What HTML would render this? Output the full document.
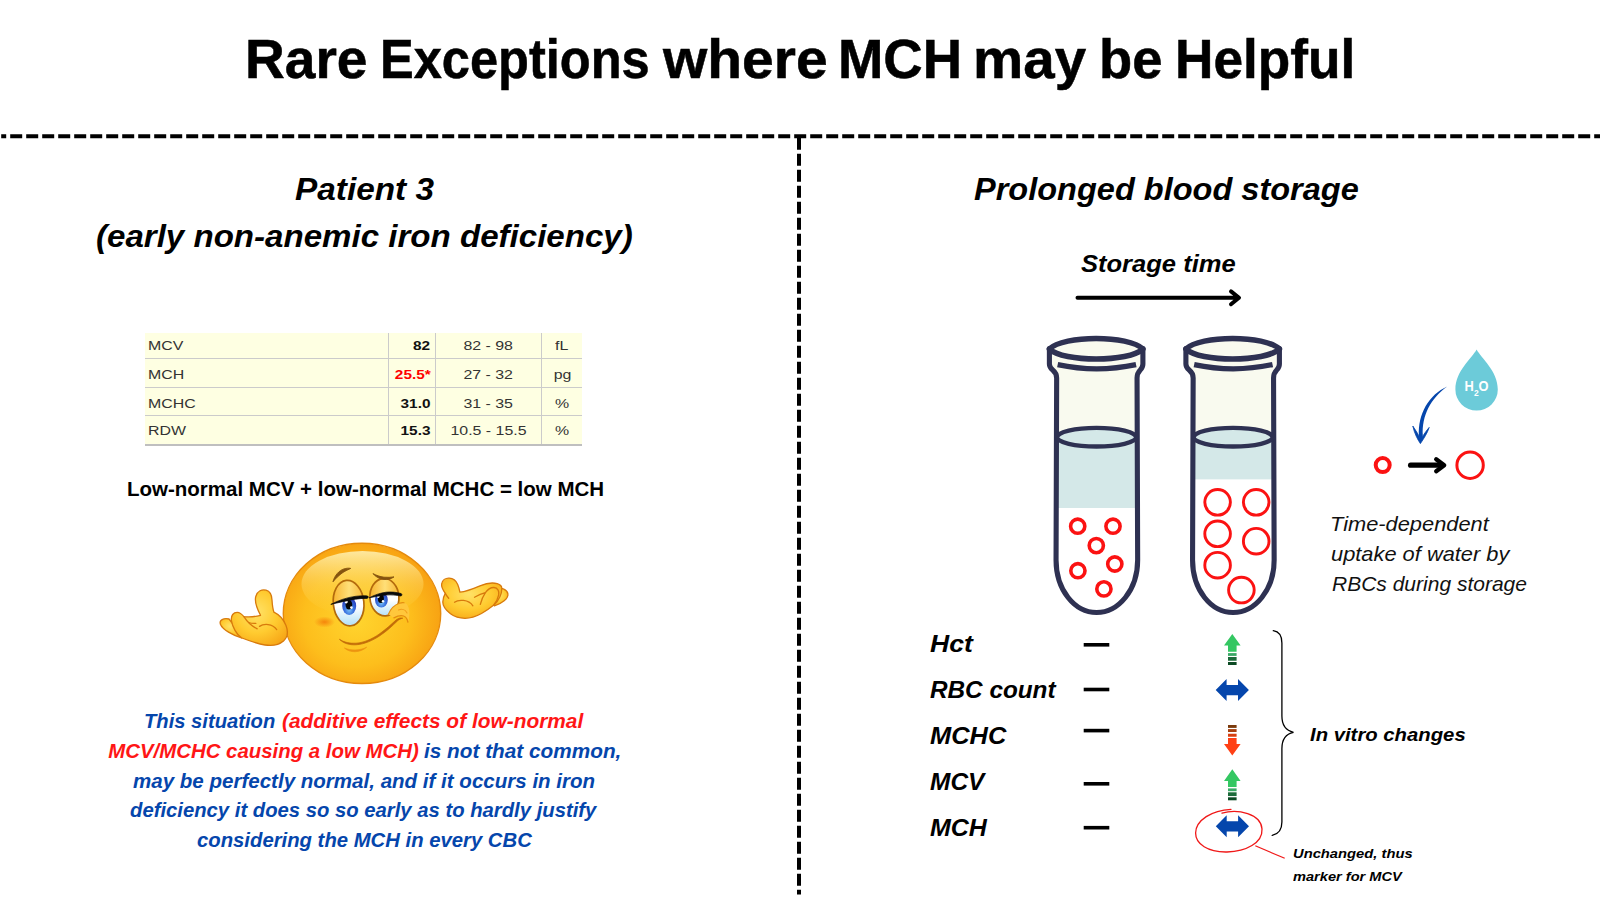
<!DOCTYPE html>
<html lang="en"><head><meta charset="utf-8"><title>Rare Exceptions where MCH may be Helpful</title>
<style>
html,body{margin:0;padding:0;background:#fff;}
body{width:1600px;height:900px;position:relative;overflow:hidden;font-family:"Liberation Sans",sans-serif;}
.t{position:absolute;margin:0;white-space:nowrap;line-height:1;transform-origin:0 50%;}
.r{color:#ff1616;}
.wl{position:absolute;left:0;margin:0;white-space:nowrap;line-height:1;width:1600px;height:1em;}
.wl span{position:absolute;top:0;transform-origin:0 50%;}
#gfx{position:absolute;left:0;top:0;}
table.lab{position:absolute;left:145.3px;top:333.2px;width:437.1px;border-collapse:collapse;background:#feffe2;font-size:13.6px;line-height:16px;color:#333;table-layout:fixed;border-bottom:2px solid #bfbfbf;}
table.lab td{border-top:1.5px solid #cbcbcb;border-left:1.5px solid #cbcbcb;padding:0 4px;vertical-align:top;white-space:nowrap;overflow:hidden;box-sizing:border-box;}
table.lab tr:first-child td{border-top:none;}
table.lab td:first-child{border-left:none;padding-left:3.2px;}
table.lab td span{display:inline-block;transform:scaleX(1.17);transform-origin:50% 50%;}
table.lab td:first-child span{transform-origin:0 50%;}
table.lab td.v{text-align:right;font-weight:bold;color:#111;padding-right:4.6px;}
table.lab td.v span{transform-origin:100% 50%;transform:scaleX(1.13);}
table.lab td.v.hi{color:#ff0000;}
table.lab td.c{text-align:center;}
table.lab tr.r1 td{height:25px;padding-top:4.4px;}
table.lab tr.r2 td{height:29.4px;padding-top:8.1px;}
table.lab tr.r3 td{height:27.9px;padding-top:7.7px;}
table.lab tr.r4 td{height:29.2px;padding-top:7.5px;}
</style></head>
<body>
<svg id="gfx" width="1600" height="900" viewBox="0 0 1600 900">
<!-- dashed dividers -->
<line x1="1.2" y1="136.25" x2="1600" y2="136.25" stroke="#000" stroke-width="4" stroke-dasharray="12 4" stroke-dashoffset="7"/>
<line x1="799" y1="137.8" x2="799" y2="894.4" stroke="#000" stroke-width="4" stroke-dasharray="12 4"/>
<!-- storage time arrow -->
<path d="M1077.5 297.8 L1238.5 297.8 M1231 291.4 L1239 297.8 L1231 304.2" fill="none" stroke="#000" stroke-width="4" stroke-linecap="round" stroke-linejoin="round"/>
<!-- test tubes -->
<g>
<clipPath id="tc0"><path d="M1049.4 348.5 L1049.4 364 C1049.4 371 1056.65 369 1056.65 378 L1056.0500000000002 560 C1056.0500000000002 590 1074.6 612.5 1096.6 612.5 C1118.6 612.5 1137.6499999999999 590 1137.6499999999999 560 L1137.05 378 C1137.05 369 1142.9 371 1142.9 364 L1142.9 348.5 Z"/></clipPath>
<g clip-path="url(#tc0)">
<rect x="1046.4" y="330" width="100" height="110" fill="#f9faef"/>
<rect x="1046.4" y="437" width="100" height="71" fill="#d4e8e8"/>
<rect x="1046.4" y="508" width="100" height="112" fill="#fff"/>
<ellipse cx="1096.6" cy="437.2" rx="39" ry="9.2" fill="#d4e8e8"/>
</g>
<circle cx="1077.7" cy="526.2" r="7.1" fill="none" stroke="#fb1212" stroke-width="3.6"/>
<circle cx="1113" cy="526.2" r="7.1" fill="none" stroke="#fb1212" stroke-width="3.6"/>
<circle cx="1096.3" cy="545.6" r="7.1" fill="none" stroke="#fb1212" stroke-width="3.6"/>
<circle cx="1114.8" cy="564" r="7.1" fill="none" stroke="#fb1212" stroke-width="3.6"/>
<circle cx="1077.9" cy="570.7" r="7.1" fill="none" stroke="#fb1212" stroke-width="3.6"/>
<circle cx="1103.9" cy="588.9" r="7.1" fill="none" stroke="#fb1212" stroke-width="3.6"/>
<path d="M1049.4 348.5 L1049.4 364 C1049.4 371 1056.65 369 1056.65 378 L1056.0500000000002 560 C1056.0500000000002 590 1074.6 612.5 1096.6 612.5 C1118.6 612.5 1137.6499999999999 590 1137.6499999999999 560 L1137.05 378 C1137.05 369 1142.9 371 1142.9 364 L1142.9 348.5 Z" fill="none" stroke="#2e3152" stroke-width="5.1" stroke-linejoin="round"/>
<ellipse cx="1096.6" cy="437.2" rx="39.5" ry="9.3" fill="none" stroke="#2e3152" stroke-width="4.4"/>
<path d="M1049.4 349 C1063.4 335 1128.9 335 1142.9 349 C1128.9 362.4 1063.4 362.4 1049.4 349 Z" fill="#f9faef" stroke="#2e3152" stroke-width="5.6" stroke-linejoin="round"/>
<path d="M1057.65 364.6 Q1096.6 373 1136.05 364.6" fill="none" stroke="#2e3152" stroke-width="5.2"/>
</g>
<g>
<clipPath id="tc136"><path d="M1185.9 348.5 L1185.9 364 C1185.9 371 1193.15 369 1193.15 378 L1192.5500000000002 560 C1192.5500000000002 590 1211.1 612.5 1233.1 612.5 C1255.1 612.5 1274.1499999999999 590 1274.1499999999999 560 L1273.55 378 C1273.55 369 1279.4 371 1279.4 364 L1279.4 348.5 Z"/></clipPath>
<g clip-path="url(#tc136)">
<rect x="1182.9" y="330" width="100" height="110" fill="#f9faef"/>
<rect x="1182.9" y="437" width="100" height="42.60000000000002" fill="#d4e8e8"/>
<rect x="1182.9" y="479.6" width="100" height="140.39999999999998" fill="#fff"/>
<ellipse cx="1233.1" cy="437.2" rx="39" ry="9.2" fill="#d4e8e8"/>
</g>
<circle cx="1217.6" cy="502.3" r="12.8" fill="none" stroke="#fb1212" stroke-width="2.9"/>
<circle cx="1256.2" cy="502.3" r="12.8" fill="none" stroke="#fb1212" stroke-width="2.9"/>
<circle cx="1217.6" cy="533.8" r="12.8" fill="none" stroke="#fb1212" stroke-width="2.9"/>
<circle cx="1256.2" cy="541.2" r="12.8" fill="none" stroke="#fb1212" stroke-width="2.9"/>
<circle cx="1217.6" cy="565.2" r="12.8" fill="none" stroke="#fb1212" stroke-width="2.9"/>
<circle cx="1241.4" cy="590.1" r="12.8" fill="none" stroke="#fb1212" stroke-width="2.9"/>
<path d="M1185.9 348.5 L1185.9 364 C1185.9 371 1193.15 369 1193.15 378 L1192.5500000000002 560 C1192.5500000000002 590 1211.1 612.5 1233.1 612.5 C1255.1 612.5 1274.1499999999999 590 1274.1499999999999 560 L1273.55 378 C1273.55 369 1279.4 371 1279.4 364 L1279.4 348.5 Z" fill="none" stroke="#2e3152" stroke-width="5.1" stroke-linejoin="round"/>
<ellipse cx="1233.1" cy="437.2" rx="39.5" ry="9.3" fill="none" stroke="#2e3152" stroke-width="4.4"/>
<path d="M1185.9 349 C1199.9 335 1265.4 335 1279.4 349 C1265.4 362.4 1199.9 362.4 1185.9 349 Z" fill="#f9faef" stroke="#2e3152" stroke-width="5.6" stroke-linejoin="round"/>
<path d="M1194.15 364.6 Q1233.1 373 1272.55 364.6" fill="none" stroke="#2e3152" stroke-width="5.2"/>
</g>
<!-- water uptake schematic -->
<path d="M1476.6 349.6 C1472.2 358 1455.4 371 1455.4 389.4 A21.2 21.2 0 1 0 1497.8 389.4 C1497.8 371 1481 358 1476.6 349.6 Z" fill="#6ccbd9"/>
<text x="1464.6" y="391.1" textLength="24" lengthAdjust="spacingAndGlyphs" font-family="Liberation Sans, sans-serif" font-weight="bold" font-size="14.6" fill="#fff">H<tspan font-size="9.6" dy="5">2</tspan><tspan dy="-5">O</tspan></text>
<path d="M1447.2 386.4 C1429 394.5 1417.6 414 1419 436 C1419.3 438.5 1419.8 440.8 1420.4 443.4 C1421.6 440.6 1422.4 438 1422.8 435.6 C1421.6 415.5 1430.6 398.5 1447.2 386.4 Z" fill="#0546ac"/>
<path d="M1412.8 426 C1414.4 433.5 1417.6 439.5 1420.4 443.6 C1423.8 438.6 1427.4 433 1429.2 427.4 C1426.4 430.6 1423.4 435 1420.8 439.2 C1418.4 435 1415.8 430 1412.8 426 Z" fill="#0546ac" stroke="#0546ac" stroke-width="0.8" stroke-linejoin="round"/>
<circle cx="1382.7" cy="465.1" r="7" fill="none" stroke="#fb1212" stroke-width="4"/>
<path d="M1410.6 465.2 L1442 465.2" fill="none" stroke="#000" stroke-width="5.2" stroke-linecap="round"/>
<path d="M1436.2 459.2 L1444.2 465.2 L1436.2 471.2" fill="none" stroke="#000" stroke-width="4.3" stroke-linecap="round" stroke-linejoin="round"/>
<circle cx="1470.1" cy="465.2" r="13.2" fill="none" stroke="#fb1212" stroke-width="3"/>
<!-- baseline dashes -->
<rect x="1083.7" y="643.0" width="25.6" height="3.6" fill="#000"/>
<rect x="1083.7" y="687.7" width="25.6" height="3.6" fill="#000"/>
<rect x="1083.7" y="728.8" width="25.6" height="3.6" fill="#000"/>
<rect x="1083.7" y="782.0" width="25.6" height="3.6" fill="#000"/>
<rect x="1083.7" y="825.9" width="25.6" height="3.6" fill="#000"/>
<!-- change arrows -->
<path d="M1232.3 634 L1240.6 645.6 L1236.6 645.6 L1236.6 651.75 L1228.0 651.75 L1228.0 645.6 L1224.0 645.6 Z" fill="#34c762"/>
<rect x="1228.0" y="653.1" width="8.6" height="2.80" fill="#3aa865"/>
<rect x="1228.0" y="657" width="8.6" height="3.75" fill="#1c6b3a"/>
<rect x="1228.0" y="662" width="8.6" height="3.00" fill="#0c4a24"/>
<path d="M1215.7 690.1 L1226.6 679.1 L1226.6 685.0 L1238.0 685.0 L1238.0 679.1 L1248.8999999999999 690.1 L1238.0 701.1 L1238.0 695.2 L1226.6 695.2 L1226.6 701.1 Z" fill="#0546ac"/>
<rect x="1228.0" y="725" width="8.6" height="2.90" fill="#7a3a0c"/>
<rect x="1228.0" y="729.1" width="8.6" height="2.90" fill="#a8400f"/>
<rect x="1228.0" y="733.75" width="8.6" height="3.00" fill="#d83f10"/>
<path d="M1228.0 738 L1236.6 738 L1236.6 744 L1240.6 744 L1232.3 755.5 L1224.0 744 L1228.0 744 Z" fill="#ff4015"/>
<path d="M1232.3 769.3 L1240.6 780.9 L1236.6 780.9 L1236.6 787.05 L1228.0 787.05 L1228.0 780.9 L1224.0 780.9 Z" fill="#34c762"/>
<rect x="1228.0" y="788.4" width="8.6" height="2.80" fill="#3aa865"/>
<rect x="1228.0" y="792.3" width="8.6" height="3.75" fill="#1c6b3a"/>
<rect x="1228.0" y="797.3" width="8.6" height="3.00" fill="#0c4a24"/>
<path d="M1215.8000000000002 826.3 L1226.7 815.3 L1226.7 821.1999999999999 L1238.1000000000001 821.1999999999999 L1238.1000000000001 815.3 L1249.0 826.3 L1238.1000000000001 837.3 L1238.1000000000001 831.4 L1226.7 831.4 L1226.7 837.3 Z" fill="#0546ac"/>
<!-- brace -->
<path d="M1273.3 630.6 C1279.5 631.5 1281.9 635.5 1281.9 643 L1281.9 716 C1281.9 725 1285.5 730.5 1293.5 732.3 C1285.5 734 1281.9 739.5 1281.9 748.5 L1281.9 822 C1281.9 829.5 1279 834 1272.2 835.3" fill="none" stroke="#000" stroke-width="1.3" stroke-linecap="round"/>
<!-- red hand-drawn ellipse and pointer -->
<path d="M1222 813.2 C1238 808.5 1261 814 1262 829 C1262.8 843 1246 851.5 1227 852 C1208 852.4 1195.5 844 1195.6 833 C1195.8 820 1212 810.2 1231 809.3" fill="none" stroke="#f01818" stroke-width="1.3" stroke-linecap="round"/>
<path d="M1255.3 845.8 L1284.7 858.3" stroke="#f01818" stroke-width="1.2" fill="none"/>
<g id="emoji">
<defs>
<radialGradient id="faceG" cx="0.47" cy="0.52" r="0.62" fx="0.47" fy="0.56">
<stop offset="0" stop-color="#ffd42e"/><stop offset="0.55" stop-color="#fdbe1c"/><stop offset="0.85" stop-color="#f8a313"/><stop offset="1" stop-color="#ee8e0a"/>
</radialGradient>
<linearGradient id="glossG" x1="0" y1="0" x2="0" y2="1">
<stop offset="0" stop-color="#fff3b8" stop-opacity="0.85"/><stop offset="0.5" stop-color="#ffe277" stop-opacity="0.38"/><stop offset="1" stop-color="#ffd84a" stop-opacity="0"/>
</linearGradient>
<radialGradient id="handG" cx="0.45" cy="0.4" r="0.75">
<stop offset="0" stop-color="#ffe268"/><stop offset="0.5" stop-color="#ffcb30"/><stop offset="1" stop-color="#f59f12"/>
</radialGradient>
<linearGradient id="eyeW" x1="0" y1="0" x2="0" y2="1">
<stop offset="0" stop-color="#ffffff"/><stop offset="0.55" stop-color="#ffffff"/><stop offset="1" stop-color="#9fd8f3"/>
</linearGradient>
<linearGradient id="lidG" x1="0" y1="0" x2="1" y2="0">
<stop offset="0" stop-color="#f6a81a"/><stop offset="0.5" stop-color="#ffdf78"/><stop offset="1" stop-color="#f6a81a"/>
</linearGradient>
<radialGradient id="irisG" cx="0.5" cy="0.7" r="0.7">
<stop offset="0" stop-color="#7cc4f6"/><stop offset="0.45" stop-color="#3a74e0"/><stop offset="1" stop-color="#2630b0"/>
</radialGradient>
<radialGradient id="blushG" cx="0.5" cy="0.5" r="0.5">
<stop offset="0" stop-color="#f5820a" stop-opacity="0.95"/><stop offset="1" stop-color="#f5820a" stop-opacity="0"/>
</radialGradient>
<clipPath id="eyeLc"><ellipse cx="348.6" cy="603.1" rx="15.3" ry="22.8" transform="rotate(-6 348.6 603.1)"/></clipPath>
<clipPath id="eyeRc"><ellipse cx="384.4" cy="597.2" rx="14.5" ry="18.7" transform="rotate(-4 384.4 597.2)"/></clipPath>
</defs>
<!-- face -->
<ellipse cx="362" cy="613.4" rx="78.7" ry="70.1" fill="url(#faceG)" stroke="#e58a0c" stroke-width="1.4"/>
<ellipse cx="362.5" cy="584" rx="61" ry="33" fill="url(#glossG)"/>
<ellipse cx="324.5" cy="622" rx="10.5" ry="5.6" fill="url(#blushG)"/>
<!-- chin shadow -->
<path d="M344.4 648 C351 650.8 360 650.6 366.7 647.2 C360 653 350 653.2 344.4 648 Z" fill="#ec9410" stroke="#ec9410" stroke-width="0.6"/>
<!-- eyes -->
<g clip-path="url(#eyeLc)">
<rect x="330" y="578" width="40" height="52" fill="url(#eyeW)"/>
<ellipse cx="349.2" cy="606" rx="7" ry="8.9" fill="url(#irisG)"/>
<ellipse cx="348.9" cy="604.8" rx="3.4" ry="4.8" fill="#050505"/>
<circle cx="346.2" cy="601.8" r="1.6" fill="#fff"/>
<circle cx="351.4" cy="607.6" r="1.3" fill="#fff"/>
<path d="M328 605.5 C340 599.5 353 596.8 370 596.4 L370 575 L328 575 Z" fill="url(#lidG)"/>
</g>
<ellipse cx="348.6" cy="603.1" rx="15.3" ry="22.8" transform="rotate(-6 348.6 603.1)" fill="none" stroke="#b36a0c" stroke-width="1.7"/>
<g clip-path="url(#eyeRc)">
<rect x="366" y="575" width="40" height="46" fill="url(#eyeW)"/>
<ellipse cx="381.4" cy="599.8" rx="6.4" ry="7.6" fill="url(#irisG)"/>
<ellipse cx="380.9" cy="598.8" rx="3" ry="4.2" fill="#050505"/>
<circle cx="378.2" cy="596.6" r="1.4" fill="#fff"/>
<circle cx="383" cy="601.3" r="1.2" fill="#fff"/>
<path d="M366 598.5 C374 594.6 388 592 404 594.8 L404 572 L366 572 Z" fill="url(#lidG)"/>
</g>
<ellipse cx="384.4" cy="597.2" rx="14.5" ry="18.7" transform="rotate(-4 384.4 597.2)" fill="none" stroke="#b36a0c" stroke-width="1.7"/>
<!-- lash lines -->
<path stroke="#0a0a0a" stroke-width="0.7" stroke-linejoin="round" d="M330.8 604.4 C338 600.6 347 597.4 355 596.4 C360 595.8 364.5 595.6 367.6 596 C368.6 596.6 368.4 598.2 367 598.4 C363 598.3 359 598.6 355.5 599.2 C347 600.6 338.5 602.6 330.8 604.4 Z" fill="#0a0a0a"/>
<path stroke="#0a0a0a" stroke-width="0.7" stroke-linejoin="round" d="M369.2 597.8 C374 595.2 380 593 386 592.2 C391.5 591.6 397.5 592.4 401.2 593.6 C402.4 594.4 402 596 400.6 596 C396.5 595.2 391 594.6 386.2 595 C380.5 595.6 374.5 596.8 369.2 597.8 Z" fill="#0a0a0a"/>
<!-- eyebrows -->
<path d="M333 581.8 C334.5 575.5 339 570.5 344 568.9 C346.5 568.1 349 568 350.7 568.4 C348.5 569.6 345.5 570.6 343 572.4 C339 575.2 335.5 578.6 333 581.8 Z" fill="#85540f" stroke="#85540f" stroke-width="0.9" stroke-linejoin="round"/>
<path d="M373 573.6 C376 575.2 380 576.8 384 577.2 C387.5 577.5 391 577.3 394 576.9 C391.5 578.8 387.5 579.8 384 579.5 C379.5 579.1 375.5 576.8 373 573.6 Z" fill="#85540f" stroke="#85540f" stroke-width="0.9" stroke-linejoin="round"/>
<!-- cheek / smirk -->
<path d="M388.5 614.3 C390.5 609 395 604.6 399.5 603.2 C402 602.4 404.5 602.6 406 603.6 C409 606 410.5 612 408.5 621.5 C407.8 618.5 405.8 616 402.6 615.8 C399 615.6 395.5 617 393.6 617.8 Z" fill="#ffc73c"/>
<path d="M388.3 614.4 C390.5 609 395 604.6 399.5 603.2 C401.5 602.6 403 602.5 404 602.8" fill="none" stroke="#e48c10" stroke-width="1.2" stroke-linecap="round"/>
<path d="M398.5 610 C402 608.6 405.5 609.8 407 613" fill="none" stroke="#f2a01c" stroke-width="1.1" stroke-linecap="round"/>
<path d="M393.9 617.8 C397 616.2 401 615.2 403.6 616 C406 616.9 407.4 619.2 407.9 622.2" fill="none" stroke="#e48c10" stroke-width="1.3" stroke-linecap="round"/>
<!-- mouth -->
<path d="M339.4 639.3 C344 642.4 350 643.6 356 643.2 C364 642.6 372 639 379 634.2 C386 629.4 392 623.6 396.5 619.6 C398.5 618.2 400.8 617.6 402.8 618.2 C400.6 618.6 399 619.6 397.4 621 C392.6 625.6 386.8 631.2 379.8 635.8 C372.6 640.6 364.4 644.2 356.2 644.8 C349.8 645.2 343.6 643.6 339.4 639.3 Z" fill="#c26c08" stroke="#c26c08" stroke-width="0.7" stroke-linejoin="round"/>
<!-- left hand -->
<g stroke="#d87a0c" stroke-width="1.3" stroke-linejoin="round" stroke-linecap="round">
<path d="M241.5 637.8 C233 635.5 222.5 629.5 220.4 624.2 C219 620 223.5 617.8 229 619 L236 628 Z" fill="url(#handG)"/>
<path d="M260.5 615.3 C257.5 609.5 254.2 602 255.8 596.5 C257.5 590.8 262 589.2 266 590.2 C270.5 591.4 271.8 595.5 272 600 C272.3 605 273 609.5 273.9 612.2 C279 614.6 283.5 619.5 286 625.5 C288.3 631.5 287.3 637.5 283.5 641 C278.5 645.3 271.5 646 265 645 C256.5 643.7 248 640.3 241.5 637.8 C236.5 634.5 232.5 627 231.4 620.5 C230.8 615.5 233.5 612.2 237.3 612.3 C240.3 612.5 242.2 614.6 243.9 616.6 C249 617.3 255.5 616.6 260.5 615.3 Z" fill="url(#handG)"/>
<path d="M243.9 616.6 C247 621.5 251.5 626 257.2 628.8" fill="none"/>
<path d="M248.7 622.5 C251.2 623.4 253.6 623.6 255.8 623.4" fill="none"/>
<path d="M259.5 626.4 C263.5 623.6 272.5 623.2 276.7 629.6" fill="none"/>
</g>
<!-- right hand -->
<g stroke="#d87a0c" stroke-width="1.3" stroke-linejoin="round" stroke-linecap="round">
<path d="M496.5 588.6 C501.5 587.2 507.2 589.6 507.9 593.8 C508.5 598.6 501.8 603.6 494.4 605.9 C492 603 491.5 595 496.5 588.6 Z" fill="url(#handG)"/>
<path d="M459.9 592.2 C466 591.5 473 588.8 480 585.8 C486 583.3 492.5 582.4 497.2 583.6 C500 584.4 501.8 586.2 501.8 588.4 C501.8 594 498.5 600.5 493.8 605 C489.5 608.5 485.5 611.2 481.5 613.5 C476 616.5 470.5 618.3 465 618.3 C459.5 618.3 454.5 616.8 450.5 613.8 C446 610.3 442.8 606 442.8 602 C442.8 598.8 443.8 596 445.3 593.4 C443.2 590.5 441.2 587.5 441.6 584.2 C442.2 580.2 445.5 578 449.2 578.2 C453.5 578.5 456.3 581.2 457.7 584.4 C458.8 587 459.5 589.8 459.9 592.2 Z" fill="url(#handG)"/>
<path d="M474.5 597.2 C478 595.3 481.8 593.6 485.4 592.6 C483 596.2 481.3 600.3 480.3 604.3" fill="none"/>
<path d="M485.4 592.6 C487.8 589.4 491 587.3 494 587.5 C497.6 587.8 499.4 591.2 498.7 594.8 C497.8 599 495.9 602.4 493.8 605" fill="none"/>
<path d="M454.5 602.2 C458.5 599.3 468.5 599.3 472.9 605.8" fill="none"/>
<path d="M445.3 593.4 C446.2 595.3 447.5 597 448.7 598.3" fill="none"/>
</g>
</g>

</svg>

<table class="lab">
<colgroup><col style="width:243.2px"><col style="width:47px"><col style="width:105.8px"><col style="width:41.1px"></colgroup>
<tr class="r1"><td><span>MCV</span></td><td class="v"><span>82</span></td><td class="c"><span>82 - 98</span></td><td class="c"><span>fL</span></td></tr>
<tr class="r2"><td><span>MCH</span></td><td class="v hi"><span>25.5*</span></td><td class="c"><span>27 - 32</span></td><td class="c"><span>pg</span></td></tr>
<tr class="r3"><td><span>MCHC</span></td><td class="v"><span>31.0</span></td><td class="c"><span>31 - 35</span></td><td class="c"><span>%</span></td></tr>
<tr class="r4"><td><span>RDW</span></td><td class="v"><span>15.3</span></td><td class="c"><span>10.5 - 15.5</span></td><td class="c"><span>%</span></td></tr>
</table>

<div class="wl" id="b1" style="top:710.83px;font-size:20.4px;font-weight:bold;font-style:italic;color:#0546ac;">
<span style="left:144.21px;transform:scaleX(0.9902)">This situation</span> <span style="color:#ff1616;left:281.90px;transform:scaleX(1.0239)">(additive effects of low-normal</span>
</div>
<div class="wl" id="b2" style="top:740.53px;font-size:20.4px;font-weight:bold;font-style:italic;color:#0546ac;">
<span style="color:#ff1616;left:108.30px;transform:scaleX(1.0000)">MCV/MCHC causing a low MCH)</span> <span style="left:424.30px;transform:scaleX(1.0190)">is not that common,</span>
</div>
<h1 class="wl" id="title" style="top:30.66px;font-size:56.4px;font-weight:bold;font-style:normal;color:#000;-webkit-text-stroke:0.55px #000;">
<span style="left:245.07px;transform:scaleX(0.9770)">Rare</span> <span style="left:380.31px;transform:scaleX(0.8964)">Exceptions</span> <span style="left:663.01px;transform:scaleX(1.0101)">where</span> <span style="left:837.60px;transform:scaleX(0.9655)">MCH</span> <span style="left:973.24px;transform:scaleX(1.0022)">may</span> <span style="left:1099.11px;transform:scaleX(0.9643)">be</span> <span style="left:1175.17px;transform:scaleX(0.9435)">Helpful</span>
</h1>
<div class="t" id="p3" style="left:294.60px;top:173.66px;font-size:31px;font-weight:bold;font-style:italic;color:#000;transform:scaleX(1.076)">Patient 3</div>
<div class="t" id="early" style="left:96.30px;top:220.86px;font-size:31px;font-weight:bold;font-style:italic;color:#000;transform:scaleX(1.067)">(early non-anemic iron deficiency)</div>
<div class="t" id="prol" style="left:974.40px;top:173.96px;font-size:31px;font-weight:bold;font-style:italic;color:#000;transform:scaleX(1.049)">Prolonged blood storage</div>
<div class="t" id="stor" style="left:1080.70px;top:253.12px;font-size:23.6px;font-weight:bold;font-style:italic;color:#000;transform:scaleX(1.082)">Storage time</div>
<div class="t" id="low" style="left:127.00px;top:480.06px;font-size:19.3px;font-weight:bold;font-style:normal;color:#000;transform:scaleX(1.063)">Low-normal MCV + low-normal MCHC = low MCH</div>
<div class="t" id="b3" style="left:132.60px;top:770.63px;font-size:20.4px;font-weight:bold;font-style:italic;color:#0546ac;transform:scaleX(1.007)">may be perfectly normal, and if it occurs in iron</div>
<div class="t" id="b4" style="left:130.00px;top:800.43px;font-size:20.4px;font-weight:bold;font-style:italic;color:#0546ac;transform:scaleX(0.994)">deficiency it does so so early as to hardly justify</div>
<div class="t" id="b5" style="left:196.70px;top:830.13px;font-size:20.4px;font-weight:bold;font-style:italic;color:#0546ac;transform:scaleX(0.995)">considering the MCH in every CBC</div>
<div class="t" id="t1" style="left:1330.40px;top:514.26px;font-size:20.6px;font-weight:normal;font-style:italic;color:#111;transform:scaleX(1.06)">Time-dependent</div>
<div class="t" id="t2" style="left:1331.00px;top:543.96px;font-size:20.6px;font-weight:normal;font-style:italic;color:#111;transform:scaleX(1.06)">uptake of water by</div>
<div class="t" id="t3" style="left:1331.90px;top:573.76px;font-size:20.6px;font-weight:normal;font-style:italic;color:#111;transform:scaleX(1.02)">RBCs during storage</div>
<div class="t" id="hct" style="left:930.40px;top:631.71px;font-size:24.8px;font-weight:bold;font-style:italic;color:#000;transform:scaleX(1.07)">Hct</div>
<div class="t" id="rbc" style="left:930.40px;top:677.55px;font-size:24.4px;font-weight:bold;font-style:italic;color:#000;transform:scaleX(0.996)">RBC count</div>
<div class="t" id="mchc" style="left:930.40px;top:723.55px;font-size:24.4px;font-weight:bold;font-style:italic;color:#000;transform:scaleX(1.042)">MCHC</div>
<div class="t" id="mcv" style="left:930.40px;top:769.55px;font-size:24.4px;font-weight:bold;font-style:italic;color:#000;transform:scaleX(1.004)">MCV</div>
<div class="t" id="mch" style="left:930.40px;top:815.55px;font-size:24.4px;font-weight:bold;font-style:italic;color:#000;transform:scaleX(1.024)">MCH</div>
<div class="t" id="inv" style="left:1310.20px;top:726.16px;font-size:18.6px;font-weight:bold;font-style:italic;color:#000;transform:scaleX(1.092)">In vitro changes</div>
<div class="t" id="u1" style="left:1292.50px;top:847.21px;font-size:13.1px;font-weight:bold;font-style:italic;color:#000;transform:scaleX(1.126)">Unchanged, thus</div>
<div class="t" id="u2" style="left:1292.50px;top:870.01px;font-size:13.1px;font-weight:bold;font-style:italic;color:#000;transform:scaleX(1.116)">marker for MCV</div>
</body></html>
